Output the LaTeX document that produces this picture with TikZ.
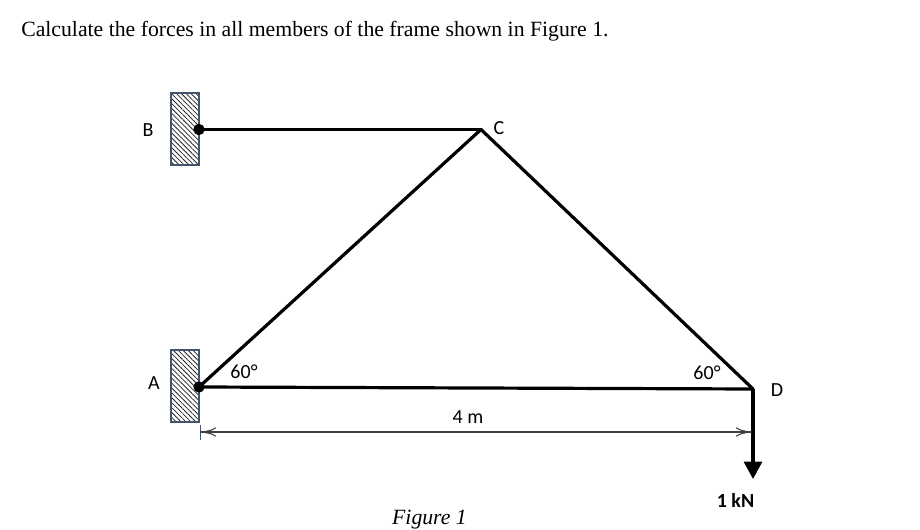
\documentclass[tikz,border=0pt]{standalone}
\usepackage{fontspec}
\setmainfont{Liberation Serif}
\newfontfamily\labelfont{Carlito}
\usetikzlibrary{positioning}
\usetikzlibrary{patterns.meta}
\usetikzlibrary{arrows.meta}
\definecolor{wallblue}{HTML}{44546A}
\definecolor{dimgrey}{HTML}{404040}
\tikzset{
  wall/.style={draw=wallblue, line width=1.2pt, pattern={Lines[angle=-45, distance=2.6pt, line width=0.6pt]}, pattern color=black!85, minimum width=21pt, minimum height=54pt, inner sep=0pt, outer sep=0pt},
  member/.style={line width=2.4pt, line cap=round},
  pin/.style={circle, fill=black, minimum size=8.5pt, inner sep=0pt},
  tag/.style={font=\labelfont\fontsize{15}{17}\selectfont, inner sep=0pt},
  dimline/.style={draw=dimgrey, line width=0.8pt, {To[length=12pt,width=7pt]}-{To[length=12pt,width=7pt]}},
  dimtick/.style={draw=wallblue, line width=0.6pt},
  load/.style={line width=2.3pt, -{Triangle[length=13pt,width=13.5pt]}}
}
\begin{document}
\begin{tikzpicture}[x=0.75pt, y=-0.75pt]
\useasboundingbox (0,0) rectangle (920,530);

\node[anchor=base west, inner sep=0pt, font=\fontsize{16.3}{19}\selectfont] (task) at (21,37) {Calculate the forces in all members of the frame shown in Figure 1.};

% supports
\node[wall] (wallB) at (185,129) {};
\node[wall] (wallA) at (185,386) {};

% joints
\coordinate (A) at (199,387);
\coordinate (B) at (199,129.5);
\coordinate (C) at (481,129.5);
\coordinate (D) at (753,389);
\coordinate (tickA) at (200,440);
\coordinate (tickTop) at (200,425);
\coordinate (dimA) at (200,432);
\coordinate (dimD) at (752,432);
\coordinate (tip) at (753,479);

% members
\draw[member] (B) -- (C);
\draw[member] (A) -- (C);
\draw[member] (C) -- (D);
\draw[member] (A) -- (D);
\draw[load] (D) -- (tip);

\node[pin] (pinB) at (B) {};
\node[pin] (pinA) at (A) {};

% dimension
\draw[dimtick] (tickTop) -- (tickA);
\draw[dimline] (dimA) -- (dimD);

% labels
\node[tag] (labB) at (148,130) {B};
\node[tag] (labA) at (154,383) {A};
\node[tag] (labC) at (499,128) {C};
\node[tag] (labD) at (777,390) {D};
\node[tag] (angA) at (244,372) {60°};
\node[tag] (angD) at (707,373) {60°};
\node[tag] (span) at (468,417) {4 m};
\node[tag, font=\labelfont\bfseries\fontsize{15}{17}\selectfont] (force) at (735.5,500) {1 kN};
\node[anchor=base, inner sep=0pt, font=\itshape\fontsize{16.3}{19}\selectfont] (caption) at (429.5,524) {Figure 1};
\end{tikzpicture}
\end{document}
